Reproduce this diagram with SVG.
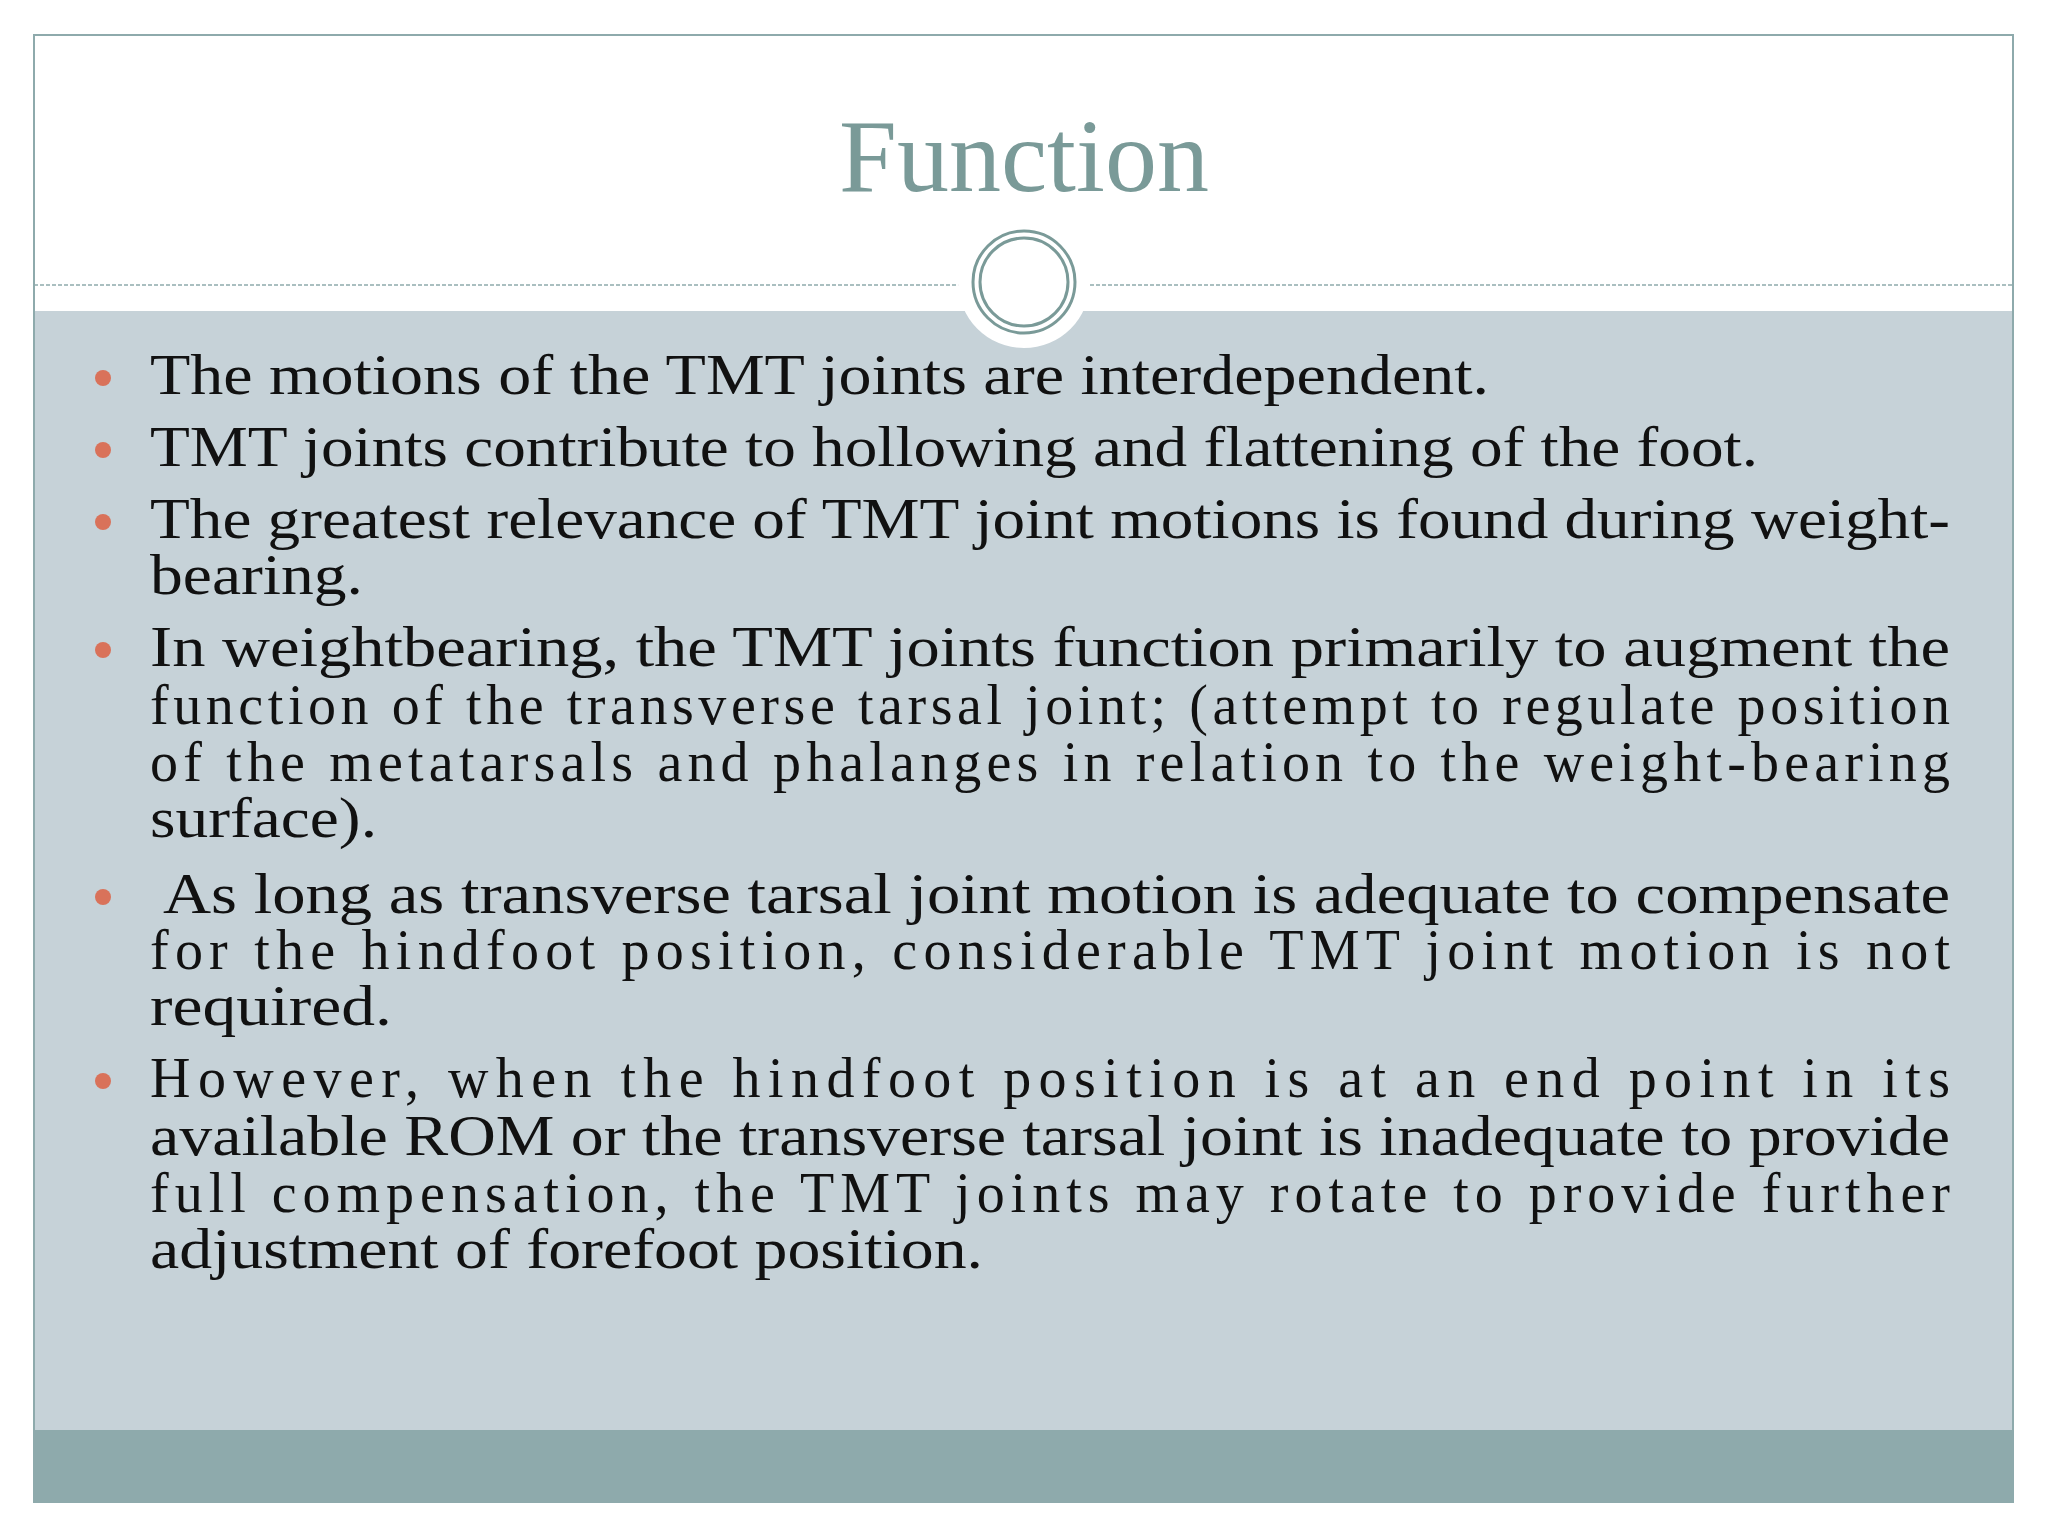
<svg xmlns="http://www.w3.org/2000/svg" width="2048" height="1536" viewBox="0 0 2048 1536">
<style>
.t{font-family:"Liberation Serif","DejaVu Serif",serif;font-size:56px;fill:#111}
.b{fill:#d9725a}
</style>
<rect width="2048" height="1536" fill="#fff"/>
<g id="frame">
<rect x="34" y="311" width="1979" height="1119" fill="#c6d2d8"/>
<rect x="34" y="1430" width="1979" height="72" fill="#8eaaac"/>
<rect x="34" y="35" width="1979" height="1467" fill="none" stroke="#8eaaac" stroke-width="2"/>
<line x1="34" y1="285" x2="2013" y2="285" stroke="#8eaaac" stroke-width="1.5" stroke-dasharray="4,2"/>
<circle cx="1024" cy="282" r="66" fill="#fff"/>
<circle cx="1024" cy="282" r="51" fill="none" stroke="#7a9a98" stroke-width="3"/>
<circle cx="1024" cy="282" r="44" fill="none" stroke="#7a9a98" stroke-width="3"/>
</g>
<g id="title"><text x="1024" y="191" text-anchor="middle" font-family="Liberation Serif,serif" font-size="104" fill="#7a9a98">Function</text></g>
<g id="bullets">
<circle class="b" cx="103" cy="378" r="8"/>
<circle class="b" cx="103" cy="450" r="8"/>
<circle class="b" cx="103" cy="522" r="8"/>
<circle class="b" cx="103" cy="650" r="8"/>
<circle class="b" cx="103" cy="897" r="8"/>
<circle class="b" cx="103" cy="1081" r="8"/>
</g>
<g id="body">
<text class="t" x="150" y="394" textLength="1339" lengthAdjust="spacingAndGlyphs">The motions of the TMT joints are interdependent.</text>
<text class="t" x="150" y="466" textLength="1608" lengthAdjust="spacingAndGlyphs">TMT joints contribute to hollowing and flattening of the foot.</text>
<text class="t" x="150" y="538" textLength="1800" lengthAdjust="spacingAndGlyphs">The greatest relevance of TMT joint motions is found during weight-</text>
<text class="t" x="150" y="594" textLength="213" lengthAdjust="spacingAndGlyphs">bearing.</text>
<text class="t" x="150" y="666" textLength="1800" lengthAdjust="spacingAndGlyphs">In weightbearing, the TMT joints function primarily to augment the</text>
<text class="t" x="150" y="724" textLength="1800" lengthAdjust="spacing">function of the transverse tarsal joint; (attempt to regulate position</text>
<text class="t" x="150" y="781" textLength="1800" lengthAdjust="spacing">of the metatarsals and phalanges in relation to the weight-bearing</text>
<text class="t" x="150" y="837" textLength="227" lengthAdjust="spacingAndGlyphs">surface).</text>
<text class="t" x="163" y="913" textLength="1787" lengthAdjust="spacingAndGlyphs">As long as transverse tarsal joint motion is adequate to compensate</text>
<text class="t" x="150" y="969" textLength="1800" lengthAdjust="spacing">for the hindfoot position, considerable TMT joint motion is not</text>
<text class="t" x="150" y="1025" textLength="242" lengthAdjust="spacingAndGlyphs">required.</text>
<text class="t" x="150" y="1097" textLength="1800" lengthAdjust="spacing">However, when the hindfoot position is at an end point in its</text>
<text class="t" x="150" y="1155" textLength="1800" lengthAdjust="spacingAndGlyphs">available ROM or the transverse tarsal joint is inadequate to provide</text>
<text class="t" x="150" y="1212" textLength="1800" lengthAdjust="spacing">full compensation, the TMT joints may rotate to provide further</text>
<text class="t" x="150" y="1268" textLength="833" lengthAdjust="spacingAndGlyphs">adjustment of forefoot position.</text>
</g>
</svg>
